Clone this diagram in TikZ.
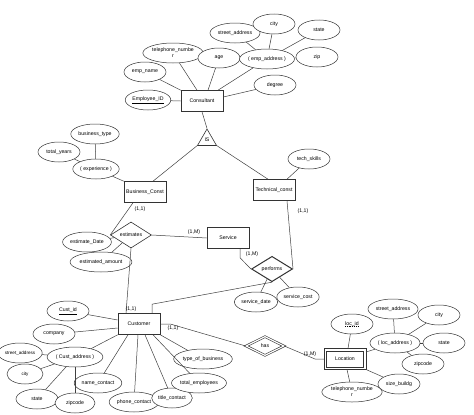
\documentclass[tikz,border=0pt]{standalone}
\usepackage{fontspec}
\setmainfont{Liberation Sans}
\usepackage{tikz}
\usetikzlibrary{shapes,positioning}

\begin{document}
\begin{tikzpicture}[
    x=1pt, y=-1pt,
    every node/.style={font=\fontsize{5.2}{5.8}\selectfont, inner sep=0.5pt},
    entity/.style={rectangle, draw=black!80, line width=0.6pt, minimum width=42pt, minimum height=21pt, text centered},
    weakentity/.style={entity, minimum width=37pt, minimum height=16pt, outer sep=2.5pt},
    attr/.style={ellipse, draw=black!80, line width=0.5pt, fill=white, minimum width=42pt, minimum height=20pt, text centered},
    smallattr/.style={attr, minimum width=36pt, font=\fontsize{4.6}{5.2}\selectfont},
    rel/.style={diamond, draw=black!80, line width=0.6pt, fill=white, minimum width=41pt, minimum height=21pt, inner sep=0pt},
    weakrel/.style={diamond, draw=black!80, line width=0.6pt, double, double distance=1.2pt, minimum width=38pt, minimum height=19pt, inner sep=0pt},
    isa/.style={regular polygon, regular polygon sides=3, draw=black!80, line width=0.6pt, minimum size=22pt, inner sep=0pt},
    line/.style={draw=black!75, line width=0.5pt}
]
    \path[use as bounding box, fill=white] (0,0) rectangle (474,415);

    % Consultant
    \node[entity] (cons) at (202,101) {Consultant};
    \node[attr] (empid) at (148,100) {\underline{Employee\_ID}};
    \node[attr] (empname) at (145,72) {emp\_name};
    \node[attr, align=center] (emptel) at (173,53) {telephone\_numbe\\r};
    \node[attr] (age) at (219,58) {age};
    \node[attr] (empaddr) at (267,59) {( emp\_address )};
    \node[attr] (empstreet) at (235,33) {street\_address};
    \node[attr] (empcity) at (274,24) {city};
    \node[attr] (empstate) at (319,30) {state};
    \node[attr] (empzip) at (317,57) {zip};
    \node[attr] (degree) at (275,85) {degree};

    % ISA
    \node[isa] (isa) at (207,140) {IS};

    % Subclasses
    \node[entity] (bus) at (145,192) {Business\_Const};
    \node[attr] (exper) at (96,169) {( experience )};
    \node[attr] (bustype) at (95,134) {business\_type};
    \node[attr] (totyears) at (59,152) {total\_years};
    \node[entity] (tech) at (274,190) {Technical\_const};
    \node[attr] (skills) at (309,159) {tech\_skills};

    % Service
    \node[rel] (est) at (131,235) {estimates};
    \node[attr] (estdate) at (87,242) {estimate\_Date};
    \node[attr] (estamt) at (101,262) {estimated\_amount};
    \node[entity] (serv) at (228,238) {Service};
    \node[rel, line width=1pt] (perf) at (272,269) {performs};
    \node[attr] (sdate) at (256,302) {service\_date};
    \node[attr] (scost) at (298,297) {service\_cost};

    % Customer
    \node[entity] (cust) at (139,324) {Customer};
    \node[attr] (custid) at (68,311) {\underline{Cust\_id}};
    \node[attr] (company) at (54,334) {company};
    \node[attr] (custaddr) at (75,357) {( Cust\_address )};
    \node[smallattr] (cstreet) at (20,353) {street\_address};
    \node[smallattr] (ccity) at (25,374) {city};
    \node[attr] (cstate) at (37,399) {state};
    \node[attr, minimum width=40pt] (czip) at (75,403) {zipcode};
    \node[attr] (cname) at (98,383) {name\_contact};
    \node[attr, minimum width=38pt] (cphone) at (134,402) {phone\_contact};
    \node[attr, minimum width=38pt] (ctitle) at (172,398) {title\_contact};
    \node[attr] (ctype) at (203,359) {type\_of\_business};
    \node[attr] (cemp) at (199,383) {total\_employees};

    % Location
    \node[weakrel] (has) at (265,346) {has};
    \node[weakentity] (loc) at (345,359) {Location};
    \draw[black!80, line width=0.6pt] (loc.north west) rectangle (loc.south east);
    \node[attr] (locid) at (352,324) {loc\_id};
    \draw[dashed, line width=0.3pt, dash pattern=on 1pt off 0.8pt] ([xshift=-7pt,yshift=-2.6pt]locid.center) -- ([xshift=7pt,yshift=-2.6pt]locid.center);
    \node[attr, align=center] (loctel) at (352,392) {telephone\_numbe\\r};
    \node[attr] (locaddr) at (395,343) {( loc\_address )};
    \node[attr] (lstreet) at (393,309) {street\_address};
    \node[attr] (lcity) at (439,315) {city};
    \node[attr] (lstate) at (444,343) {state};
    \node[attr] (lzip) at (423,364) {zipcode};
    \node[attr] (lsize) at (399,384) {size\_buildg};

    % Lines
    \draw[line] (empid) -- (cons.west);
    \draw[line] (empname) -- (cons.north west);
    \draw[line] (emptel) -- ([xshift=-5pt]cons.north);
    \draw[line] (age) -- ([xshift=6pt]cons.north);
    \draw[line] (empaddr) -- ([xshift=16pt]cons.north);
    \draw[line] (degree) -- ([yshift=4pt]cons.east);
    \foreach \a in {empstreet,empcity,empstate,empzip}
        \draw[line] (empaddr) -- (\a);

    \draw[line] (cons.south) -- (isa.corner 1);
    \draw[line] (isa.corner 2) -- ([xshift=8pt]bus.north);
    \draw[line] (isa.corner 3) -- ([xshift=-6pt]tech.north);

    \draw[line] (bustype) -- (exper);
    \draw[line] (totyears) -- (exper);
    \draw[line] (exper) -- (bus.north west);
    \draw[line] (skills) -- ([xshift=13pt]tech.north);

    \draw[line] ([xshift=-12pt]bus.south) -- (est.west);
    \draw[line] (est.east) -- (serv.west);
    \draw[line] (estdate) -- (est);
    \draw[line] (estamt) -- (est);
    \draw[line] (est.south) -- ([xshift=-13pt]cust.north);

    \draw[line] ([xshift=13pt]tech.south) -- (perf.east);
    \draw[line] ([xshift=12pt]serv.south) -- ++(0,9) -- (perf.west);
    \draw[line] ([xshift=13pt]cust.north) -- ++(0,-9) -- (perf.south);
    \draw[line] (sdate) -- (perf);
    \draw[line] (scost) -- (perf);

    \draw[line] (custid) -- ([yshift=4pt]cust.west);
    \draw[line] (company) -- ([yshift=-4pt]cust.west);
    \draw[line] (custaddr) -- (cust.south west);
    \foreach \a in {cstreet,ccity,cstate,czip}
        \draw[line] (custaddr) -- (\a);
    \draw[line] (cname) -- ([xshift=-11pt]cust.south);
    \draw[line] (cphone) -- ([xshift=-1pt]cust.south);
    \draw[line] (ctitle) -- ([xshift=6pt]cust.south);
    \draw[line] (cemp) -- ([xshift=14pt]cust.south);
    \draw[line] (ctype) -- (cust.south east);

    \draw[line] (cust.east) -- ++(10,0) -- (has.west);
    \draw[line] (loc.west) -- ++(-9,0) -- (has.east);

    \draw[line] (locid) -- ([xshift=3pt]loc.north);
    \draw[line] (loctel) -- ([xshift=2pt]loc.south);
    \draw[line] (locaddr) -- ([yshift=7pt]loc.east);
    \draw[line] (lsize) -- (loc.south east);
    \foreach \a in {lstreet,lcity,lstate,lzip}
        \draw[line] (locaddr) -- (\a);

    % Cardinalities
    \node (card1) at (140,209) {(1,1)};
    \node (card2) at (194,232) {(1,M)};
    \node (card3) at (303,211) {(1,1)};
    \node (card4) at (252,254) {(1,M)};
    \node (card5) at (131,309) {(1,1)};
    \node (card6) at (173,328) {(1,1)};
    \node (card7) at (310,354) {(1,M)};
\end{tikzpicture}
\end{document}
